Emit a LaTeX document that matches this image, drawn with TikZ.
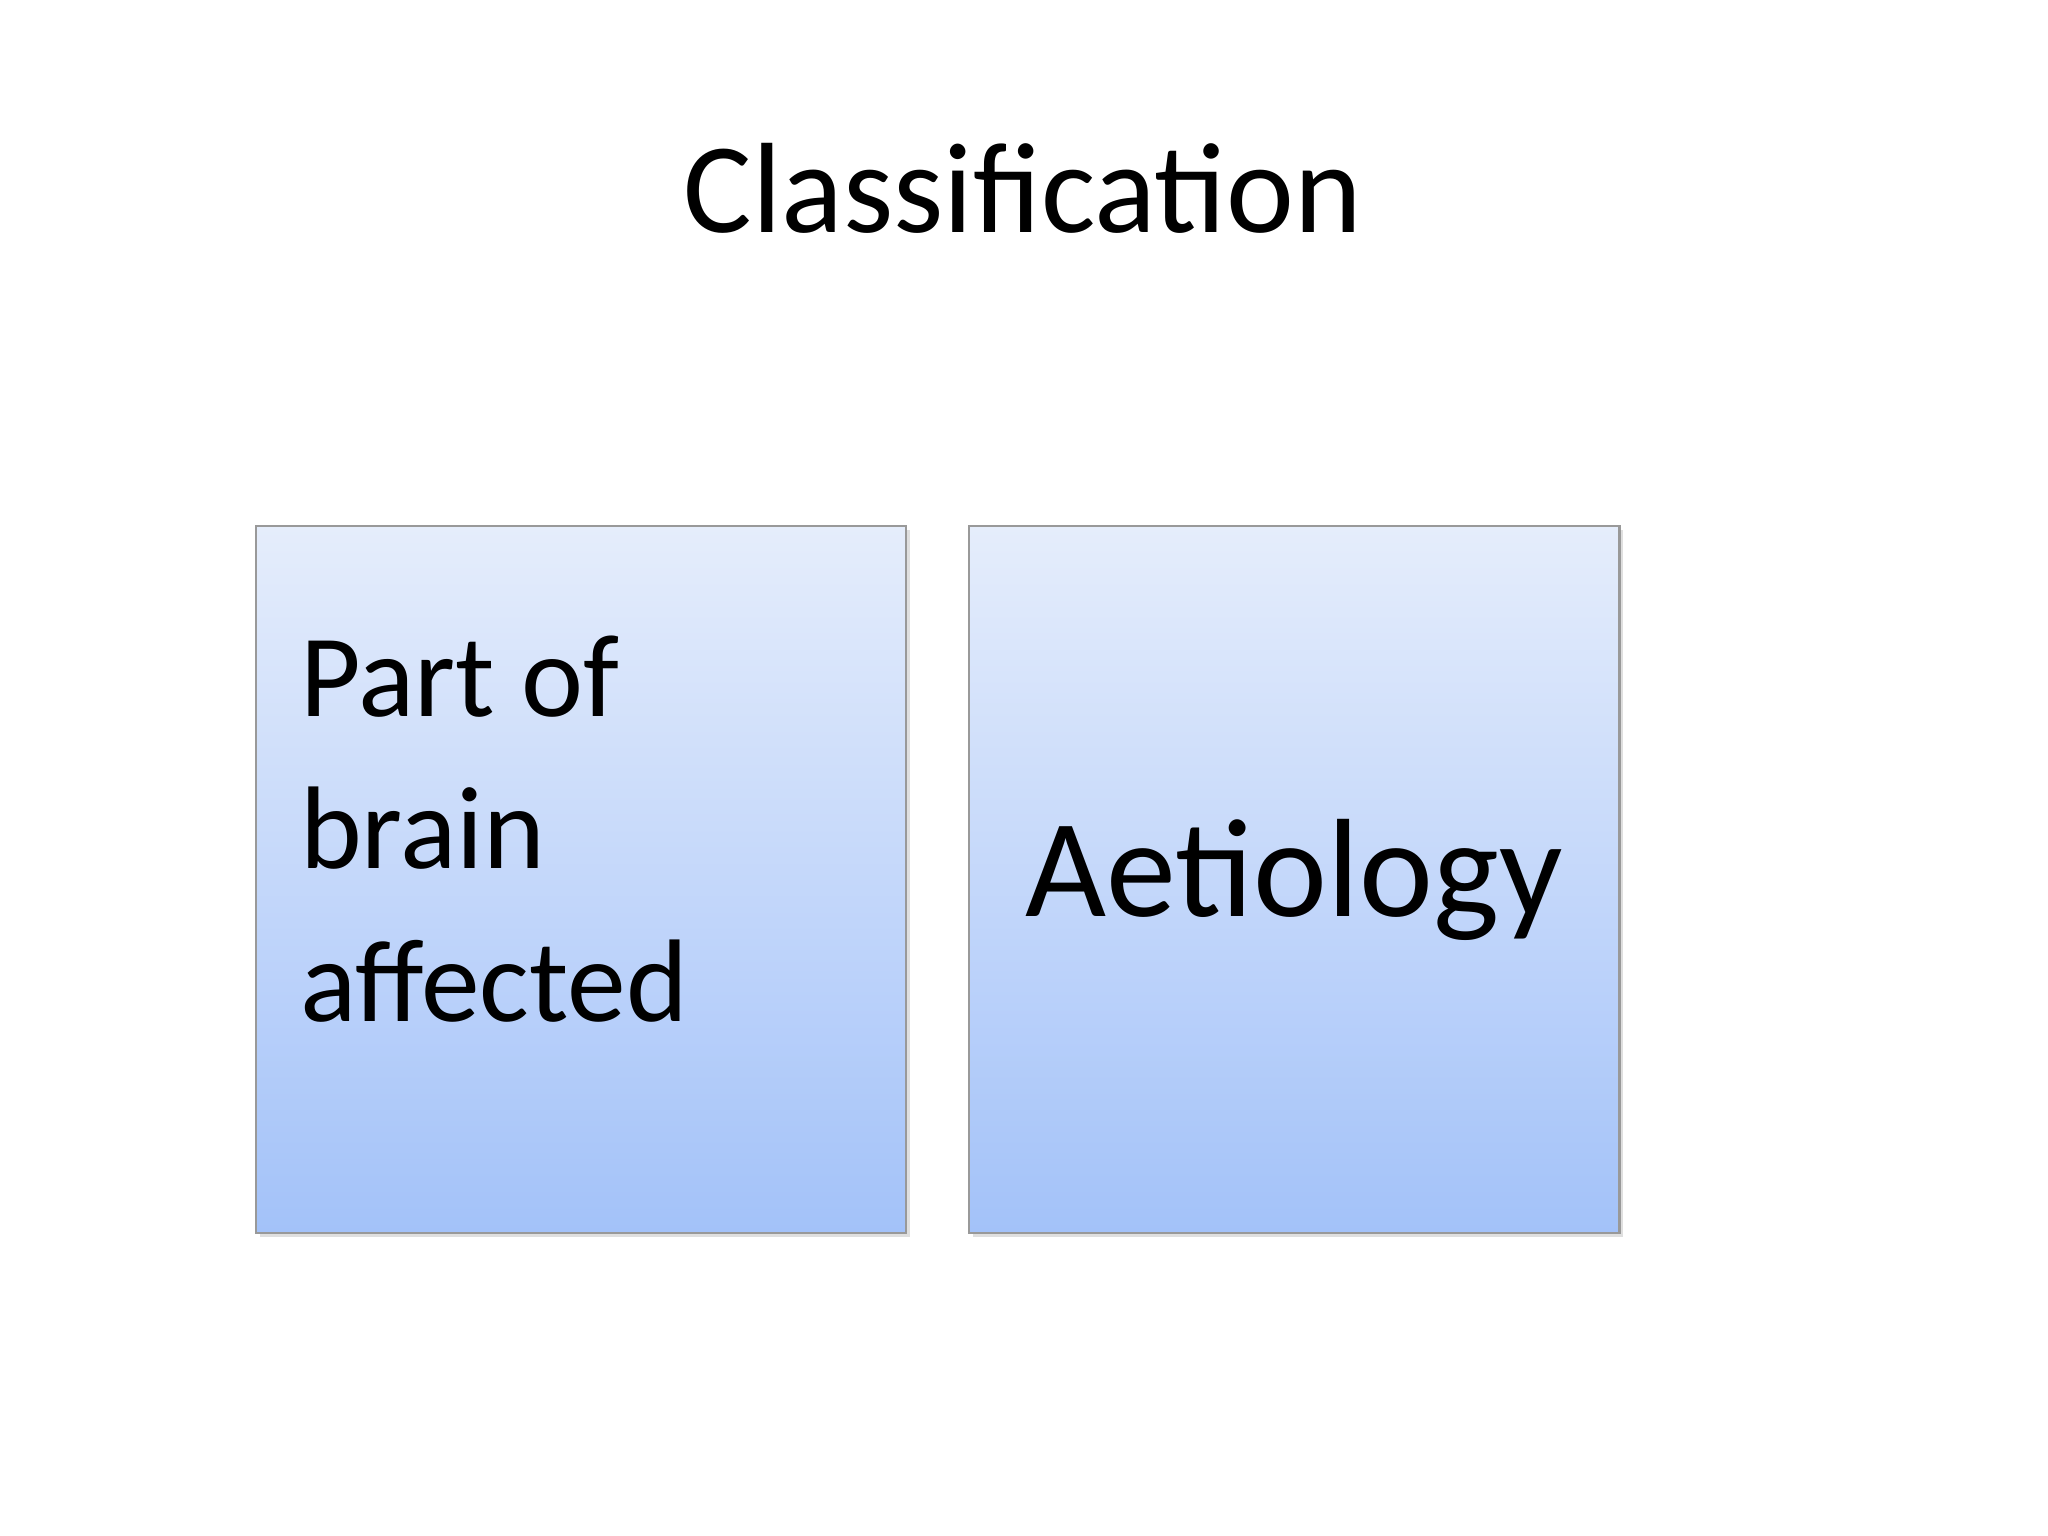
\documentclass[tikz,border=0pt]{standalone}
\usepackage{fontspec}
\setmainfont{Carlito}
\usetikzlibrary{shadows}
\definecolor{topc}{HTML}{E5EDFB}
\definecolor{botc}{HTML}{A3C2F9}
\tikzset{box/.style={draw=gray!80,line width=0.5pt,top color=topc,bottom color=botc,minimum width=4.98cm,minimum height=5.41cm,anchor=north west,drop shadow={shadow xshift=0.03cm,shadow yshift=-0.03cm,opacity=0.25}}}
\begin{document}
\begin{tikzpicture}
\useasboundingbox[fill=white] (0,0) rectangle (15.68,11.76);
\node[anchor=base,font=\fontsize{28}{34}\selectfont] (title) at (7.83,9.98) {Classification};
\node[box] (left) at (1.95,7.74) {};
\node[box] (right) at (7.41,7.74) {};
\node[anchor=north west,align=left,inner sep=0pt,font=\fontsize{25.6}{33.2}\selectfont] (lt) at (2.29,6.9) {Part of\\brain\\affected};
\node[font=\fontsize{30.5}{36}\selectfont] (rt) at (right.center) {Aetiology};
\end{tikzpicture}
\end{document}
